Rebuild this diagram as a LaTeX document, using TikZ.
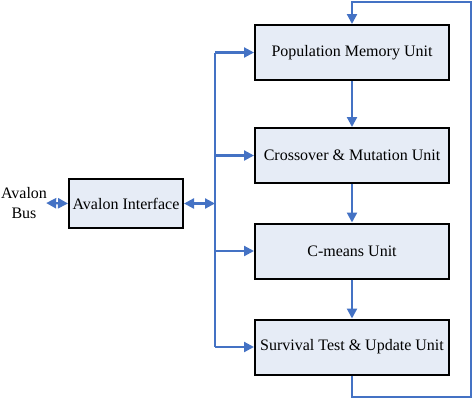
\documentclass[tikz,border=0pt]{standalone}
\usepackage{fontspec}
\setmainfont{Liberation Serif}
\usetikzlibrary{arrows.meta}
\definecolor{boxfill}{HTML}{E6ECF6}
\definecolor{linkblue}{HTML}{4472C4}
\begin{document}
\begin{tikzpicture}[x=1pt,y=-1pt,
  unit/.style={draw=black,line width=2pt,fill=boxfill,minimum width=194pt,minimum height=55pt,inner sep=0pt,font=\fontsize{16}{18}\selectfont},
  link/.style={draw=linkblue,line width=2.2pt,-{Triangle[length=10pt,width=10pt]}},
  dlink/.style={draw=linkblue,line width=2.2pt,{Triangle[length=10pt,width=10pt]}-{Triangle[length=10pt,width=10pt]}}]
\useasboundingbox (0,0) rectangle (474,400);
\node[unit] (pop) at (352,52.5) {Population Memory Unit};
\node[unit] (cross) at (352,155.5) {Crossover \& Mutation Unit};
\node[unit] (cmeans) at (352,251) {C-means Unit};
\node[unit] (surv) at (352,347) {Survival Test \& Update Unit};
\node[unit,minimum width=114pt,minimum height=49pt] (avi) at (126,203.5) {Avalon Interface};
\node[align=center,inner sep=0pt,font=\fontsize{16}{20}\selectfont] (bus) at (24,203) {Avalon\\Bus};
\coordinate (btop) at (215,52.5);
\coordinate (bbot) at (215,347);
\coordinate (bmid) at (215,203.5);
\coordinate (lbot) at (352,397);
\coordinate (lright) at (471,397);
\coordinate (ltop) at (471,2);
\draw[link] (pop) -- (cross);
\draw[link] (cross) -- (cmeans);
\draw[link] (cmeans) -- (surv);
\draw[draw=linkblue,line width=2.2pt] (btop) -- (bbot);
\draw[link] (btop) -- (pop.west);
\draw[link] (bbot) -- (surv.west);
\draw[link] (bmid |- cross) -- (cross.west);
\draw[link] (bmid |- cmeans) -- (cmeans.west);
\draw[dlink] (avi.east) -- (bmid);
\draw[dlink] (bus.east) ++(-1,0) coordinate (bx) (bx) -- (avi.west);
\draw[link] (surv.south) -- (lbot) -- (lright) -- (ltop) -| (pop.north);
\end{tikzpicture}
\end{document}
